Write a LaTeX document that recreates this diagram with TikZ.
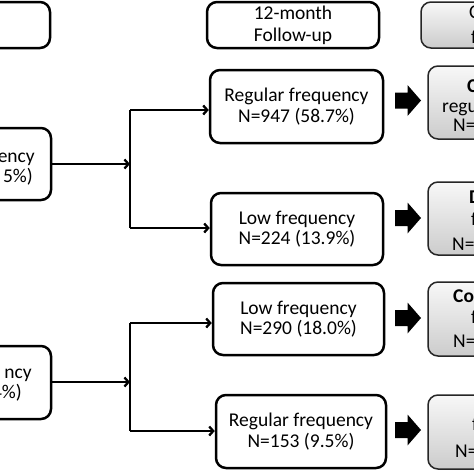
\documentclass[tikz,border=0pt]{standalone}
\usepackage{fontspec}
\setmainfont{Carlito}
\usetikzlibrary{arrows.meta}
\begin{document}
\begin{tikzpicture}[x=1pt,y=-1pt,
  box/.style={draw=black, line width=2.5pt, rounded corners=10pt, fill=white, inner sep=0pt, align=center, font=\fontsize{19.5}{20.5}\selectfont},
  gbox/.style={draw=black!85, line width=1.5pt, rounded corners=10pt, top color=gray!6, bottom color=gray!40, inner sep=0pt},
  frag/.style={inner sep=0pt, font=\fontsize{19.5}{20.5}\selectfont},
  bfrag/.style={inner sep=0pt, font=\fontsize{19.5}{20.5}\selectfont\bfseries},
  conn/.style={line width=2.3pt, -{Straight Barb[length=4pt,width=9pt,line width=2.3pt]}},
  bar/.style={line width=2.3pt},
  blockarrow/.style={fill=black}
  ]
\useasboundingbox (0,0) rectangle (474,474);
\clip (0,0) rectangle (474,474);
\fill[white] (0,0) rectangle (474,474);

% headers
\node[box, minimum width=200pt, minimum height=46pt] (h1) at (-50,25) {};
\node[box, minimum width=172pt, minimum height=46pt, font=\fontsize{19.5}{22}\selectfont] (h2) at (293,25) {12-month\\Follow-up};
\node[gbox, minimum width=200pt, minimum height=46pt] (h3) at (521,25) {};
\node[frag, anchor=base west] (h3a) at (469,18) {C};
\node[frag, anchor=base west] (h3b) at (471,43) {f};

% left boxes
\node[box, minimum width=200pt, minimum height=72pt] (l1) at (-49,164) {};
\node[frag, anchor=base east] (l1a) at (35,162) {ency};
\node[frag, anchor=base east] (l1b) at (33,182) {5\%)};
\node[box, minimum width=200pt, minimum height=73pt] (l2) at (-49,382.5) {};
\node[frag, anchor=base east] (l2a) at (32,378) {ncy};
\node[frag, anchor=base east] (l2b) at (22,398) {4\%)};

% middle boxes
\node[box, minimum width=173pt, minimum height=73pt] (m1) at (296.5,106.5) {Regular frequency\\N=947 (58.7\%)};
\node[box, minimum width=172pt, minimum height=72pt] (m2) at (297,229) {Low frequency\\N=224 (13.9\%)};
\node[box, minimum width=171pt, minimum height=72pt] (m3) at (298.5,319) {Low frequency\\N=290 (18.0\%)};
\node[box, minimum width=170pt, minimum height=73pt] (m4) at (301,431.5) {Regular frequency\\N=153 (9.5\%)};

% right boxes
\node[gbox, minimum width=200pt, minimum height=73pt] (r1) at (528,102.5) {};
\node[bfrag, anchor=base west] (r1a) at (467,92) {C};
\node[frag, anchor=base west] (r1b) at (442,112) {regu};
\node[frag, anchor=base west] (r1c) at (453,131) {N=};
\node[gbox, minimum width=200pt, minimum height=73pt] (r2) at (528,218.5) {};
\node[bfrag, anchor=base west] (r2a) at (469,203) {D};
\node[frag, anchor=base west] (r2b) at (471,225) {f};
\node[frag, anchor=base west] (r2c) at (452,250) {N=};
\node[gbox, minimum width=200pt, minimum height=74pt] (r3) at (528,319) {};
\node[bfrag, anchor=base west] (r3a) at (453,302) {Co};
\node[frag, anchor=base west] (r3b) at (471,323) {f};
\node[frag, anchor=base west] (r3c) at (453,347) {N=};
\node[gbox, minimum width=200pt, minimum height=74pt] (r4) at (528,432) {};
\node[frag, anchor=base west] (r4b) at (472,430) {f};
\node[frag, anchor=base west] (r4c) at (455,457) {N=};

% connectors
\coordinate (j1) at (130,164);
\coordinate (t1) at (130,110);
\coordinate (b1) at (130,228);
\draw[conn] (l1.east |- j1) -- (j1);
\draw[bar] (t1) -- (b1);
\draw[conn] (t1) -- (t1 -| m1.west);
\draw[conn] (b1) -- (b1 -| m2.west);

\coordinate (j2) at (130,382);
\coordinate (t2) at (130,323);
\coordinate (b2) at (130,431);
\draw[conn] (l2.east |- j2) -- (j2);
\draw[bar] (t2) -- (b2);
\draw[conn] (t2) -- (t2 -| m3.west);
\draw[conn] (b2) -- (b2 -| m4.west);

% block arrows
\foreach \yy in {100.5,218,318,430}{
  \fill[blockarrow] (395,\yy-8) -- (407.5,\yy-8) -- (407.5,\yy-15.5) -- (421,\yy) -- (407.5,\yy+15.5) -- (407.5,\yy+8) -- (395,\yy+8) -- cycle;
}
\end{tikzpicture}
\end{document}
